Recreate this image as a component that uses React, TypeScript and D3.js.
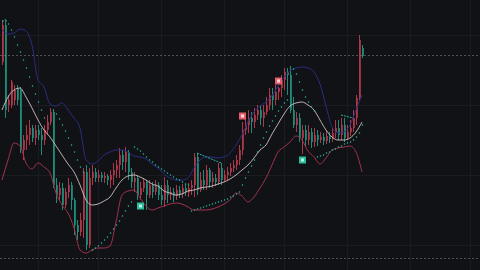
import React from 'react';
import * as d3 from 'd3';

// Candles (price units), index = bar number
const opens = [208,245,165,165,170,182,180,120,130,135,142,132,140,135,130,140,148,158,85,75,82,65,78,85,70,45,38,50,98,25,92,98,92,95,92,94,90,95,100,105,115,108,118,98,88,92,75,82,88,75,85,78,85,75,70,85,75,78,74,80,76,82,78,82,85,113,80,90,85,100,88,92,88,102,90,95,98,102,105,110,120,140,145,152,148,155,160,152,158,165,175,170,178,182,190,198,195,160,145,152,132,140,130,138,128,135,130,133,129,134,131,137,142,135,145,132,138,142,152,172,222];
const closes = [245,160,170,188,180,170,120,130,135,142,132,140,135,130,140,148,158,85,75,82,65,78,85,70,45,38,50,98,25,92,98,92,95,92,94,90,95,100,105,115,108,118,98,88,92,75,82,88,75,85,78,85,75,70,85,75,78,74,80,76,82,78,82,85,113,80,90,85,100,88,92,88,102,90,95,98,102,105,110,120,140,145,152,148,155,160,152,158,165,175,170,178,182,190,198,195,160,145,152,132,140,130,138,128,135,130,133,129,134,131,137,142,135,145,132,138,142,152,172,230,214];
const highs = [250,248,175,190,185,185,183,135,145,150,145,145,145,142,145,155,162,160,92,88,87,82,92,88,72,50,57,102,105,102,105,102,100,98,98,96,100,107,110,122,120,123,120,102,98,95,88,92,90,90,88,90,88,85,93,90,83,82,85,84,86,86,87,90,117,117,98,100,105,102,98,96,107,107,100,103,107,110,115,125,148,152,160,158,162,165,165,165,173,182,182,185,183,195,202,202,202,173,158,157,145,145,145,142,142,140,138,137,139,138,142,150,150,152,152,145,150,160,175,235,225];
const lows = [205,152,158,162,165,165,117,110,120,125,128,125,130,115,125,135,145,82,67,70,60,62,72,60,35,30,34,32,20,22,85,88,88,88,87,85,82,85,92,92,100,98,90,82,78,70,70,78,60,72,72,75,70,65,63,67,70,68,70,72,72,74,73,75,73,75,78,80,80,82,82,84,85,85,88,90,94,98,100,105,115,135,137,137,142,150,145,143,155,160,160,165,170,173,180,175,157,142,138,128,116,123,125,122,123,124,127,125,126,127,128,132,130,130,128,130,134,138,145,170,212];

// Bollinger bands, read every second bar
const bandStep = 2;
const upperBand = [240,236,237,241,239,225,190,183,166,164,167,160,152,142,110,106,109,115,118,120,120,118,114,113,111,106,102,96,92,90,90,92,102,110,113,113,112,113,117,125,135,148,158,164,168,174,184,193,199,202,203,202,198,186,164,143,137,138,145,160,175];
const middleBand = [160,173,180,182,173,162,150,140,133,124,115,106,98,85,70,65,66,69,73,82,90,94,95,93,90,86,84,79,77,75,76,79,80,82,83,84,86,88,91,95,100,105,112,120,125,136,146,156,164,167,168,165,160,150,140,133,130,130,132,138,148];
const lowerBand = [90,110,127,124,107,101,107,103,97,77,65,57,42,20,17,20,22,22,24,48,75,79,80,72,64,60,62,64,66,67,66,63,60,60,60,61,63,66,70,77,74,68,73,82,92,105,118,123,128,134,130,119,113,106,112,120,122,123,124,118,98];

// Parabolic SAR per bar (null = no dot)
const sar: (number | null)[] = [null,250,246,240,233,225,218,210,202,193,184,176,168,160,152,null,null,160,156,151,145,139,132,125,118,110,103,98,null,null,20,22,24,27,30,33,37,41,45,49,54,59,64,68,123,121,119,116,113,110,108,105,103,101,99,97,95,93,91,90,88,86,85,59,60,61,62,63,64,65,66,67,68,69,70,71,73,74,76,78,85,92,98,104,110,118,125,132,138,144,149,154,159,163,167,170,203,201,196,188,180,173,168,163,159,113,114,115,117,118,120,121,123,124,126,127,128,130,133,137,145];

// Short dashed trend segments: [bar1, price1, bar2, price2]
const trendSegs = [[0,249,2,249],[65,117,73,107],[113,155,117,152]];

const sellBars = [80, 92];
const buyBars = [46, 100];

const priceTicks = [25, 95, 165, 235];
const timeTicks = [12, 32, 53, 74, 94, 115, 136, 156];
const refLines = [215, 12];

const UP = '#c83f52';
const DOWN = '#22a28b';

export default function App() {
  const W = 480, H = 270;
  const x = d3.scaleLinear().domain([0, 160]).range([2, 482]);
  const y = d3.scaleLinear().domain([0, 270]).range([270, 0]);

  const bandLine = (vals: number[]) =>
    d3.line<number>()
      .x((_, k) => x(k * bandStep))
      .y(d => y(d))
      .curve(d3.curveMonotoneX)(vals) || '';

  return (
    <svg width={W} height={H} style={{ position: 'fixed', left: 0, top: 0, display: 'block' }}>
      <rect width={W} height={H} fill="#111216" />
      {priceTicks.map(p => (
        <line key={'h' + p} x1={0} x2={W} y1={Math.round(y(p)) + 0.5} y2={Math.round(y(p)) + 0.5} stroke="#1a1c21" strokeWidth={1} />
      ))}
      {timeTicks.map(t => (
        <line key={'v' + t} y1={0} y2={H} x1={Math.round(x(t)) + 0.5} x2={Math.round(x(t)) + 0.5} stroke="#1a1c21" strokeWidth={1} />
      ))}
      {refLines.map(p => (
        <line key={'r' + p} x1={0} x2={W} y1={Math.round(y(p)) + 0.5} y2={Math.round(y(p)) + 0.5} stroke="#4e5158" strokeWidth={1} strokeDasharray="2 2" />
      ))}
      {opens.map((o, i) => {
        const c = closes[i];
        const col = c >= o ? UP : DOWN;
        const cx = Math.round(x(i));
        const top = Math.min(y(o), y(c));
        const bh = Math.max(1, Math.abs(y(o) - y(c)));
        return (
          <g key={'c' + i} shapeRendering="crispEdges" opacity={0.85}>
            <rect x={cx} y={y(highs[i])} width={1} height={y(lows[i]) - y(highs[i])} fill={col} />
            <rect x={cx - 0.5} y={top} width={2} height={bh} fill={col} opacity={0.85} />
          </g>
        );
      })}
      <path d={bandLine(upperBand)} fill="none" stroke="#292d80" strokeWidth={1} />
      <path d={bandLine(middleBand)} fill="none" stroke="#dccacc" strokeWidth={1} opacity={0.85} />
      <path d={bandLine(lowerBand)} fill="none" stroke="#a0324c" strokeWidth={1} />
      {sar.map((v, i) => v == null ? null : (
        <circle key={'s' + i} cx={x(i) + 0.5} cy={y(v)} r={0.75} fill="#2bb7a0" />
      ))}
      {trendSegs.map((s, k) => (
        <line key={'t' + k} x1={x(s[0])} y1={y(s[1])} x2={x(s[2])} y2={y(s[3])} stroke="#2bb7a0" strokeWidth={1} strokeDasharray="2 1" />
      ))}
      {sellBars.map(i => {
        const cy = y(highs[i]) - 6;
        const cx = x(i) + 0.5;
        return (
          <g key={'sell' + i}>
            <rect x={cx - 3.5} y={cy - 3.5} width={7} height={7} fill="#e85a68" />
            <rect x={cx - 1.5} y={cy - 1.5} width={3} height={3} fill="#ffd6da" />
          </g>
        );
      })}
      {buyBars.map(i => {
        const cy = y(lows[i]) + 6;
        const cx = x(i) + 0.5;
        return (
          <g key={'buy' + i}>
            <rect x={cx - 3.5} y={cy - 3.5} width={7} height={7} fill="#2abd9b" />
            <rect x={cx - 1.5} y={cy - 1.5} width={3} height={3} fill="#b6f2e2" />
          </g>
        );
      })}
    </svg>
  );
}
